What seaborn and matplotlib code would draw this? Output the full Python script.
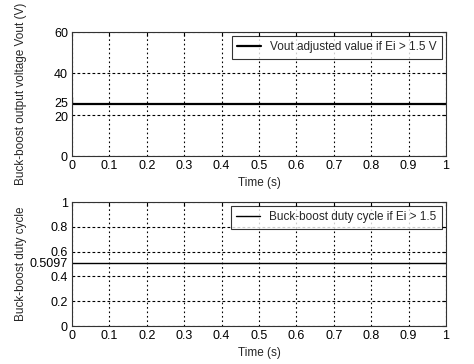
import numpy as np
import pandas as pd
import seaborn as sns
import matplotlib.pyplot as plt
import matplotlib.transforms as mtransforms

# Data
time_vout = [0.0, 0.0, 1.0]
vout = [28.0, 25.0, 25.0]
time_duty = [0.0, 1.0]
duty = [0.5097, 0.5097]

x_ticks = [0, 0.1, 0.2, 0.3, 0.4, 0.5, 0.6, 0.7, 0.8, 0.9, 1]
x_labels = ['0', '0.1', '0.2', '0.3', '0.4', '0.5', '0.6', '0.7', '0.8', '0.9', '1']
vout_ticks = [0, 20, 25, 40, 60]
duty_ticks = [0, 0.2, 0.4, 0.5097, 0.6, 0.8, 1]
duty_labels = ['0', '0.2', '0.4', '0.5097', '0.6', '0.8', '1']

sns.set_style('white')
plt.rcParams['font.family'] = ['Liberation Sans', 'DejaVu Sans']

df_v = pd.DataFrame({'t': time_vout, 'v': vout})
df_d = pd.DataFrame({'t': time_duty, 'd': duty})

fig = plt.figure(figsize=(4.74, 3.64), dpi=100)
ax1 = fig.add_axes([0.152, 0.571, 0.789, 0.341])
ax2 = fig.add_axes([0.152, 0.104, 0.789, 0.341])


def style_axes(ax):
    ax.set_xlim(0, 1)
    ax.set_xticks(x_ticks)
    ax.set_xticklabels(x_labels)
    ax.tick_params(direction='in', length=3, top=True, right=True,
                   labelsize=9, colors='black', pad=3)
    # vertical dotted grid, horizontal dashed grid
    ax.xaxis.grid(True, linestyle=(0, (1.5, 2.5)), color='black', linewidth=0.8)
    ax.yaxis.grid(True, linestyle=(0, (2.5, 2)), color='black', linewidth=0.8)
    for s in ax.spines.values():
        s.set_color('#333333')
        s.set_linewidth(0.8)
    ax.set_xlabel('Time (s)', fontsize=8.5)
    ax.xaxis.set_label_coords(0.5, -0.17)
    ax.yaxis.set_label_coords(-0.12, 0.5)


def style_legend(ax):
    leg = ax.legend(loc='upper right', fontsize=8.5, frameon=True, fancybox=False,
                    borderpad=0.45, handlelength=2.0, borderaxespad=0.35)
    leg.get_frame().set_edgecolor('black')
    leg.get_frame().set_linewidth(0.8)


# Top: output voltage
sns.lineplot(data=df_v, x='t', y='v', ax=ax1, color='black', linewidth=1.6,
             label='Vout adjusted value if Ei > 1.5 V', sort=False,
             estimator=None)
style_axes(ax1)
ax1.set_ylim(0, 60)
ax1.set_yticks(vout_ticks)
ax1.set_ylabel('Buck-boost output voltage Vout (V)', fontsize=8.5)
ax1.get_ygridlines()[2].set_visible(False)
# nudge the close 25 / 20 labels apart a little
labels = ax1.get_yticklabels()
labels[2].set_transform(labels[2].get_transform() +
                        mtransforms.ScaledTranslation(0, 2 / 100, fig.dpi_scale_trans))
labels[1].set_transform(labels[1].get_transform() +
                        mtransforms.ScaledTranslation(0, -2 / 100, fig.dpi_scale_trans))
style_legend(ax1)

# Bottom: duty cycle
sns.lineplot(data=df_d, x='t', y='d', ax=ax2, color='black', linewidth=1.0,
             label='Buck-boost duty cycle if Ei > 1.5')
style_axes(ax2)
ax2.set_ylim(0, 1)
ax2.set_yticks(duty_ticks)
ax2.set_yticklabels(duty_labels)
ax2.set_ylabel('Buck-boost duty cycle', fontsize=8.5)
ax2.get_ygridlines()[3].set_visible(False)
style_legend(ax2)

fig.savefig('out.png', dpi=100)
